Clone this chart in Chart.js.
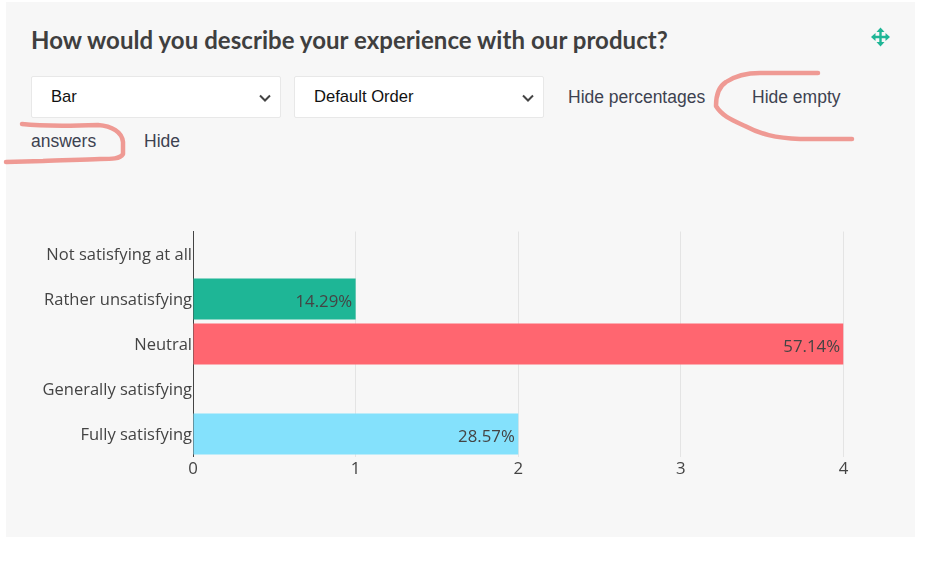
<!DOCTYPE html>
<html>
<head>
<meta charset="utf-8">
<title>Survey chart</title>
<script src="https://cdn.jsdelivr.net/npm/chart.js@4/dist/chart.umd.min.js"></script>
<style>
    html, body { margin: 0; padding: 0; background: #fff; overflow: hidden; }
    body { width: 938px; height: 580px; position: relative; font-family: "Liberation Sans", Arial, sans-serif; }
    .panel { position: absolute; left: 6px; top: 2px; width: 909px; height: 535px; background: #f7f7f7; }
    .title { position: absolute; left: 31px; top: 25px; font: 700 24px Lato, sans-serif; letter-spacing: 0.05px; color: #3f3f3f; white-space: nowrap; }
    .select { position: absolute; top: 76px; height: 40px; width: 248px; background: #fff; border: 1px solid #e8e8e8; border-radius: 2px; font-size: 16.6px; line-height: 39px; color: #111; }
    .select span { position: absolute; left: 19px; }
    .select svg { position: absolute; right: 8px; top: 17px; }
    .link { position: absolute; font-size: 17.5px; color: #3d4250; white-space: nowrap; line-height: 22px; }
    .chart-wrap { position: absolute; left: 6px; top: 215px; width: 900px; height: 280px; }
    .overlay { position: absolute; left: 0; top: 0; pointer-events: none; }
</style>
</head>
<body>
<div class="panel"></div>
<div class="title">How would you describe your experience with our product?</div>

<div class="select" style="left:31px"><span>Bar</span>
    <svg width="14" height="9" viewBox="0 0 14 9"><path d="M2 1.5 L7 6.5 L12 1.5" fill="none" stroke="#444" stroke-width="2"/></svg>
</div>
<div class="select" style="left:294px"><span>Default Order</span>
    <svg width="14" height="9" viewBox="0 0 14 9"><path d="M2 1.5 L7 6.5 L12 1.5" fill="none" stroke="#444" stroke-width="2"/></svg>
</div>
<div class="link" style="left:568px;top:86px">Hide percentages</div>
<div class="link" style="left:752px;top:86px">Hide empty</div>
<div class="link" style="left:31px;top:130px">answers</div>
<div class="link" style="left:144px;top:130px">Hide</div>

<div class="chart-wrap"><canvas id="surveyChart"></canvas></div>

<svg class="overlay" width="938" height="580">
    <!-- move icon -->
    <g fill="none" stroke="#1fb696" stroke-width="2.4">
        <path d="M880.5 30 V44 M873.5 37 H887.5"/>
    </g>
    <g fill="#1fb696">
        <path d="M880.5 27.5 L884.5 32 H876.5 Z"/>
        <path d="M880.5 46.5 L884.5 42 H876.5 Z"/>
        <path d="M871 37 L875.5 33 V41 Z"/>
        <path d="M890 37 L885.5 33 V41 Z"/>
    </g>
    <!-- hand drawn annotations -->
    <g fill="none" stroke="#ef9a94" stroke-width="4.5" stroke-linecap="round" stroke-linejoin="round">
        <path d="M818 73 L760 73 C745 73 735 76 726 82 C718 87 716 95 716 106 C722 116 732 120 745 126 C760 134 775 138 800 139 L852 139"/>
        <path d="M22 124 C40 126 70 126 98 125 C112 126 122 132 123 142 L123 154 C120 159 112 159 100 159 C80 160 60 160 43 161 L6 162"/>
    </g>
</svg>

<script>
const categories = ['Not satisfying at all', 'Rather unsatisfying', 'Neutral', 'Generally satisfying', 'Fully satisfying'];
const answerCounts = [0, 1, 4, 0, 2];
const percentLabels = ['', '14.29%', '57.14%', '', '28.57%'];
const barColors = ['#36a2eb', '#1eb696', '#ff6670', '#ffce56', '#84e1fc'];

const textFont = '"Open Sans", sans-serif';

// Percentages drawn inside the end of each bar
const percentPlugin = {
    id: 'percentLabels',
    afterDatasetsDraw(chart) {
        const ctx = chart.ctx;
        ctx.save();
        ctx.font = '16.8px ' + textFont;
        ctx.fillStyle = '#444';
        ctx.textAlign = 'right';
        ctx.textBaseline = 'middle';
        chart.getDatasetMeta(0).data.forEach(function(bar, i) {
            if (percentLabels[i]) {
                ctx.fillText(percentLabels[i], bar.x - 3.5, bar.y + 3);
            }
        });
        ctx.restore();
    }
};

const surveyCtx = document.getElementById('surveyChart').getContext('2d');
new Chart(surveyCtx, {
    type: 'bar',
    data: {
        labels: categories,
        datasets: [{
            data: answerCounts,
            backgroundColor: barColors,
            borderWidth: 0,
            barPercentage: 0.915,
            categoryPercentage: 1
        }]
    },
    options: {
        indexAxis: 'y',
        responsive: true,
        maintainAspectRatio: false,
        animation: false,
        layout: { padding: { top: 16.5, right: 62.5, bottom: 0, left: 0 } },
        plugins: {
            legend: { display: false },
            tooltip: { enabled: false }
        },
        scales: {
            x: {
                min: 0,
                max: 4,
                ticks: { stepSize: 1, color: '#444', padding: 3, font: { family: textFont, size: 16.8 } },
                grid: { color: '#e4e4e4', drawTicks: false },
                border: { display: false },
                afterFit(scale) { scale.height = 38.5; }
            },
            y: {
                ticks: { color: '#444', padding: 1, labelOffset: 1, font: { family: textFont, size: 16.5 } },
                grid: { display: false, drawTicks: false },
                border: { color: '#444', display: true },
                afterFit(scale) { scale.width = 187; }
            }
        }
    },
    plugins: [percentPlugin]
});
</script>
</body>
</html>
